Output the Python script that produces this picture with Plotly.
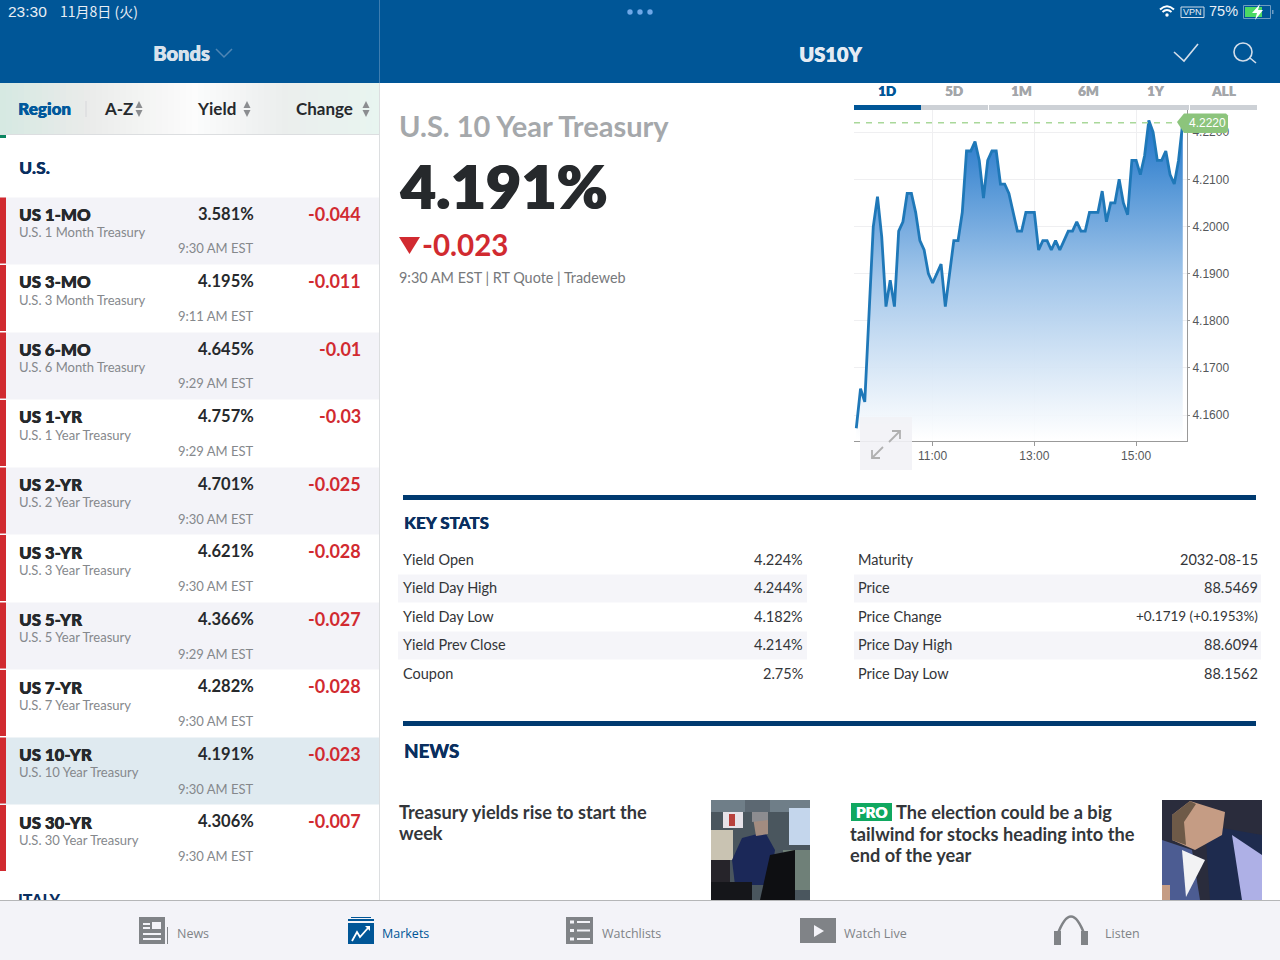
import pandas as pd
import plotly.graph_objects as go

W, H = 1280, 960

# chart values, 5 minute steps from 9:30
yield_1d = [
    4.1572, 4.1656, 4.1628, 4.1815, 4.1999, 4.2063, 4.1978, 4.183, 4.1886, 4.183,
    4.199, 4.201, 4.207, 4.207, 4.203, 4.197, 4.195, 4.190, 4.188, 4.190,
    4.192, 4.183, 4.190, 4.197, 4.197, 4.203, 4.216, 4.216, 4.218, 4.214,
    4.206, 4.214, 4.216, 4.216, 4.209, 4.209, 4.207, 4.203, 4.199, 4.199,
    4.203, 4.203, 4.203, 4.195, 4.197, 4.197, 4.195, 4.197, 4.195, 4.197,
    4.199, 4.199, 4.201, 4.199, 4.199, 4.203, 4.203, 4.203, 4.2075, 4.201,
    4.205, 4.205, 4.21, 4.205, 4.2025, 4.214, 4.214, 4.211, 4.215, 4.2225,
    4.22, 4.214, 4.214, 4.216, 4.211, 4.209, 4.214, 4.222,
]
times_1d = pd.date_range("2022-11-08 09:30", periods=len(yield_1d), freq="5min")
last_value = 4.222
y_ticks = [4.16, 4.17, 4.18, 4.19, 4.20, 4.21, 4.22]
x_ticks = ["2022-11-08 11:00", "2022-11-08 13:00", "2022-11-08 15:00"]
x_tick_labels = ["11:00", "13:00", "15:00"]
tabs = ["1D", "5D", "1M", "6M", "1Y", "ALL"]

# bond list
bond_names = ["US 1-MO", "US 3-MO", "US 6-MO", "US 1-YR", "US 2-YR", "US 3-YR", "US 5-YR", "US 7-YR", "US 10-YR", "US 30-YR"]
bond_descs = ["U.S. 1 Month Treasury", "U.S. 3 Month Treasury", "U.S. 6 Month Treasury", "U.S. 1 Year Treasury",
              "U.S. 2 Year Treasury", "U.S. 3 Year Treasury", "U.S. 5 Year Treasury", "U.S. 7 Year Treasury",
              "U.S. 10 Year Treasury", "U.S. 30 Year Treasury"]
bond_yields = ["3.581%", "4.195%", "4.645%", "4.757%", "4.701%", "4.621%", "4.366%", "4.282%", "4.191%", "4.306%"]
bond_changes = ["-0.044", "-0.011", "-0.01", "-0.03", "-0.025", "-0.028", "-0.027", "-0.028", "-0.023", "-0.007"]
bond_times = ["9:30 AM EST", "9:11 AM EST", "9:29 AM EST", "9:29 AM EST", "9:30 AM EST",
              "9:30 AM EST", "9:29 AM EST", "9:30 AM EST", "9:30 AM EST", "9:30 AM EST"]

# key stats
stat_left = ["Yield Open", "Yield Day High", "Yield Day Low", "Yield Prev Close", "Coupon"]
stat_left_vals = ["4.224%", "4.244%", "4.182%", "4.214%", "2.75%"]
stat_right = ["Maturity", "Price", "Price Change", "Price Day High", "Price Day Low"]
stat_right_vals = ["2032-08-15", "88.5469", "+0.1719 (+0.1953%)", "88.6094", "88.1562"]

nav_labels = ["News", "Markets", "Watchlists", "Watch Live", "Listen"]

FONT = "Lato"
BLUE = "#005697"
NAVY = "#0a2f60"
RED = "#d12a30"
DARK = "#26292c"
GREY = "#85888c"
NAV_GREY = "#808387"
NAV_BG = "#f3f3f8"


def fx(x):
    return x / W


def fy(y):
    return 1 - y / H


shapes = []
notes = []


def rect(x0, y0, x1, y1, color, layer="below"):
    shapes.append(dict(type="rect", xref="paper", yref="paper", x0=fx(x0), x1=fx(x1), y0=fy(y0), y1=fy(y1),
                       fillcolor=color, line=dict(width=0), layer=layer))


def path(points, fill=None, line=None, width=1, close=True, layer="above"):
    d = "M" + " L".join(f"{fx(x):.5f},{fy(y):.5f}" for x, y in points) + (" Z" if close else "")
    shapes.append(dict(type="path", xref="paper", yref="paper", path=d, fillcolor=fill or "rgba(0,0,0,0)",
                       line=dict(color=line or "rgba(0,0,0,0)", width=width if line else 0), layer=layer))


def curve(x0, y0, cx, cy, x1, y1, color, width):
    d = f"M{fx(x0):.5f},{fy(y0):.5f} Q{fx(cx):.5f},{fy(cy):.5f} {fx(x1):.5f},{fy(y1):.5f}"
    shapes.append(dict(type="path", xref="paper", yref="paper", path=d, line=dict(color=color, width=width), layer="above"))


def circle(cx, cy, r, fill=None, line=None, width=1):
    shapes.append(dict(type="circle", xref="paper", yref="paper", x0=fx(cx - r), x1=fx(cx + r), y0=fy(cy + r), y1=fy(cy - r),
                       fillcolor=fill or "rgba(0,0,0,0)", line=dict(color=line or "rgba(0,0,0,0)", width=width if line else 0), layer="above"))


def txt(x, y, s, size, color, anchor="left", weight=400, family=FONT):
    # annotations sit a pixel or so inside the anchor, pull them back
    x = x - 1 if anchor == "left" else x + 0.5 if anchor == "right" else x
    font = dict(family=family, size=size, color=color, weight=weight)
    if weight >= 800:
        font["shadow"] = f"{size * 0.02:.2f}px 0 0 {color}"
    notes.append(dict(xref="paper", yref="paper", x=fx(x), y=fy(y - 1), text=s, showarrow=False, xanchor=anchor, yanchor="middle",
                      borderpad=0, font=font))


def updown(x, y):
    path([(x - 3.5, y - 1), (x + 3.5, y - 1), (x, y - 8)], fill="#8b8d90")
    path([(x - 3.5, y + 1), (x + 3.5, y + 1), (x, y + 8)], fill="#8b8d90")


# headers
rect(0, 0, W, 83, BLUE)
rect(379, 0, 380, 83, "#3d7db0")
txt(8, 12, "23:30", 15.5, "#e8eef5", family="Liberation Sans")
txt(60, 12, "11月8日 (火)", 14, "#e8eef5", family="Noto Sans CJK JP")
txt(181, 54, "Bonds", 20, "#d8e2ec", "center", 800)
path([(216, 49), (224, 57), (232, 49)], line="#4f86b5", width=1.5, close=False)
txt(830, 55, "US10Y", 20, "#e4ebf3", "center", 800)
for cx in (630, 640, 650):
    circle(cx, 12, 2.7, fill="#6fa8e8")
path([(1174, 52), (1184, 61), (1198, 44)], line="#d3deea", width=1.6, close=False)
circle(1243, 52, 9, line="#d3deea", width=1.6)
path([(1250, 58), (1256, 63)], line="#d3deea", width=1.6, close=False)

# status icons
curve(1160, 9.5, 1167, 3, 1174, 9.5, "white", 2)
curve(1162.5, 12, 1167, 8, 1171.5, 12, "white", 2)
circle(1167, 15, 1.7, fill="white")
shapes.append(dict(type="rect", xref="paper", yref="paper", x0=fx(1181), x1=fx(1204), y0=fy(17.5), y1=fy(7), line=dict(color="#cfdcea", width=1), layer="above"))
txt(1192.5, 13, "VPN", 9, "#e8eef5", "center", family="Liberation Sans")
txt(1209, 12.5, "75%", 14.5, "#e8eef5", family="Liberation Sans")
shapes.append(dict(type="rect", xref="paper", yref="paper", x0=fx(1243.5), x1=fx(1270.5), y0=fy(18.5), y1=fy(5.5), line=dict(color="#6f9cc2", width=1), layer="above"))
rect(1245, 7, 1262, 17, "#4cd964", "above")
rect(1272, 10, 1273.5, 14, "#6f9cc2", "above")
path([(1260, 4), (1252, 13), (1257, 13), (1255, 20), (1263, 10), (1258, 10)], fill="white")

# sort bar, drawn in strips since rects have one colour
stops = [(0, (214, 233, 226)), (85, (234, 235, 234)), (190, (252, 252, 252)), (280, (235, 238, 237)), (379, (232, 245, 240))]
for sx in range(0, 379, 6):
    for (a, ca), (b, cb) in zip(stops, stops[1:]):
        if a <= sx < b:
            t = (sx - a) / (b - a)
            c = [round(p + (q - p) * t) for p, q in zip(ca, cb)]
            rect(sx, 83, min(sx + 6.5, 379), 134, f"rgb({c[0]},{c[1]},{c[2]})")
rect(0, 134, 379, 135, "#dcdee0")
rect(0, 135, 6, 138, "#0a8560")
rect(85.5, 101, 86.5, 117, "#d5d8da")
txt(18, 109, "Region", 17, "#00599c", weight=800)
txt(104, 109, "A-Z", 17, DARK, weight=700)
updown(139, 109)
txt(197, 109, "Yield", 17, DARK, weight=700)
updown(247, 109)
txt(296, 109, "Change", 17, DARK, weight=700)
updown(366, 109)
txt(19, 168, "U.S.", 17.5, NAVY, weight=900)

# rows
for i, name in enumerate(bond_names):
    top = 197.5 + 67.5 * i
    if i == 8:
        rect(0, top, 379, top + 67, "#dfeaf0")
    elif i % 2 == 0:
        rect(0, top, 379, top + 67, NAV_BG)
    rect(0, top, 6, top + 66, RED)
    txt(19, top + 18, name, 16.8, DARK, weight=800)
    txt(19, top + 35.5, bond_descs[i], 13, GREY)
    txt(254, top + 17, bond_yields[i], 16.5, DARK, "right", 700)
    txt(361, top + 17, bond_changes[i], 18, RED, "right", 700)
    txt(254, top + 52, bond_times[i], 13, GREY, "right")
rect(379, 83, 380, 900, "#dcdee0")

# quote block
txt(399, 127, "U.S. 10 Year Treasury", 29, "#a5a8ab", weight=700)
txt(399, 187, "4.191%", 61, DARK, weight=800)
path([(399, 237), (420, 237), (409.5, 254)], fill=RED, layer="below")
txt(422, 246, "-0.023", 29.5, RED, weight=700)
txt(399, 278, "9:30 AM EST | RT Quote | Tradeweb", 14.4, "#77797c")

# range tabs
rect(854, 105, 1257, 110, "#cdd1d6")
rect(854, 105, 921, 110, BLUE)
rect(988, 105, 989, 110, "#ffffff")
rect(1189, 105, 1190, 110, "#ffffff")
for i, tab in enumerate(tabs):
    txt(887 + 67.2 * i, 92, tab, 13.5, BLUE if i == 0 else "#a3a6aa", "center", 800)

# green last price tag
path([(1177, 122), (1184, 113.5), (1226, 113.5), (1228, 115.5), (1228, 131), (1226, 133), (1184, 133)], fill="#8cc47c")
txt(1189, 124, "4.2220", 12, "white", family="Liberation Sans")

# expand button
rect(860, 417, 912, 470, "rgba(242,242,246,0.9)", "above")
path([(872, 458), (883, 447)], line="#b0b0b0", width=1.8, close=False)
path([(872, 450), (872, 458), (880, 458)], line="#b0b0b0", width=1.8, close=False)
path([(889, 442), (900, 431)], line="#b0b0b0", width=1.8, close=False)
path([(892, 431), (900, 431), (900, 439)], line="#b0b0b0", width=1.8, close=False)

# key stats
rect(403, 495, 1256, 500, "#003a70")
txt(404, 523, "KEY STATS", 17, NAVY, weight=900)
for i in range(5):
    y = 560 + 28.5 * i
    if i % 2 == 1:
        rect(398, y - 14, 807, y + 14, "#f5f5f9")
        rect(854, y - 14, 1261, y + 14, "#f5f5f9")
    txt(403, y, stat_left[i], 14.5, "#333538")
    txt(803, y, stat_left_vals[i], 14.5, "#333538", "right")
    txt(858, y, stat_right[i], 14.5, "#333538")
    txt(1258, y, stat_right_vals[i], 13.5 if i == 2 else 14.5, "#333538", "right")

# news
rect(403, 721, 1256, 726, "#003a70")
txt(404, 752, "NEWS", 18.7, NAVY, weight=900)
txt(399, 813, "Treasury yields rise to start the", 18.2, "#33363a", weight=700)
txt(399, 834, "week", 18.2, "#33363a", weight=700)
rect(851, 803, 892, 821, "#10a860")
txt(871.5, 812.5, "PRO", 15, "white", "center", 800)
txt(896, 813, "The election could be a big", 18.2, "#33363a", weight=700)
txt(850, 835, "tailwind for stocks heading into the", 18.2, "#33363a", weight=700)
txt(850, 856, "end of the year", 18.2, "#33363a", weight=700)

# photo 1, a rough sketch in blocks
rect(711, 800, 810, 900, "#4a565e")
rect(711, 800, 810, 812, "#6f7e88")
rect(711, 830, 733, 860, "#c9c3b2")
rect(745, 800, 770, 812, "#5c6872")
rect(723, 812, 743, 828, "#e6e2e8")
rect(729, 814, 735, 826, "#b8403c")
rect(789, 808, 810, 845, "#c4d6ec")
rect(783, 850, 810, 890, "#6f8078")
path([(732, 860), (742, 838), (765, 832), (775, 850), (770, 885), (735, 885)], fill="#1b2858", layer="below")
path([(752, 812), (768, 812), (768, 834), (756, 836)], fill="#a38c80", layer="below")
path([(752, 812), (768, 812), (768, 820), (752, 822)], fill="#8c8c90", layer="below")
path([(770, 855), (795, 850), (795, 900), (760, 900)], fill="#0e0f12", layer="below")
rect(711, 882, 752, 900, "#15161a")
rect(711, 860, 730, 882, "#26242a")

# photo 2
rect(1162, 800, 1262, 900, "#2a2c3c")
path([(1162, 840), (1192, 850), (1200, 900), (1162, 900)], fill="#4c5c92", layer="below")
path([(1205, 825), (1262, 835), (1262, 900), (1210, 900)], fill="#1e2b4e", layer="below")
path([(1232, 835), (1262, 855), (1262, 900), (1242, 900)], fill="#aeb0e6", layer="below")
path([(1182, 850), (1205, 860), (1186, 897)], fill="#f2f2f4", layer="below")
path([(1172, 815), (1190, 801), (1225, 812), (1222, 835), (1195, 850), (1172, 840)], fill="#c59c84", layer="below")
path([(1172, 815), (1190, 801), (1196, 804), (1184, 822), (1186, 845), (1172, 840)], fill="#6e5a48", layer="below")
rect(1162, 885, 1170, 900, "#c59c84")

# bottom nav
rect(0, 900, W, 960, NAV_BG, "above")
rect(0, 900, W, 901, "#b5b6b8", "above")
rect(139, 917, 165, 944, NAV_GREY, "above")
rect(143, 923, 150, 925, NAV_BG, "above")
rect(143, 927, 150, 929, NAV_BG, "above")
rect(152, 922, 161, 929, NAV_BG, "above")
rect(143, 933, 161, 935, NAV_BG, "above")
rect(143, 938, 161, 940, NAV_BG, "above")
rect(167, 927, 168, 944, NAV_GREY, "above")
rect(348, 923, 374, 944, BLUE, "above")
rect(348, 919, 374, 921, BLUE, "above")
rect(351, 917, 371, 918, BLUE, "above")
path([(352, 941), (357, 932), (360, 937), (368, 928)], line="white", width=1.8, close=False)
path([(365, 926), (370, 926), (370, 931)], fill="white")
rect(566, 917, 593, 944, NAV_GREY, "above")
for ny in (922, 930.5, 939):
    rect(570, ny - 1.5, 574, ny + 1.5, NAV_BG, "above")
    rect(577, ny - 1, 590, ny + 1, NAV_BG, "above")
rect(800, 918, 836, 943, NAV_GREY, "above")
path([(814, 925), (814, 937), (824, 931)], fill=NAV_BG)
curve(1057, 936, 1071, 897, 1085, 936, NAV_GREY, 2.6)
rect(1054, 931, 1061, 945, NAV_GREY, "above")
rect(1081, 931, 1088, 945, NAV_GREY, "above")
for x, label, color in zip([177, 382, 602, 844, 1105], nav_labels, [NAV_GREY, BLUE, NAV_GREY, NAV_GREY, NAV_GREY]):
    txt(x, 934, label, 12.5, color, family="Open Sans")

# price line, a shape since the axis only holds the chart
shapes.append(dict(type="line", xref="paper", yref="y", x0=fx(854), x1=fx(1178), y0=last_value, y1=last_value,
                   line=dict(color="#a9d89a", width=1.3, dash="6px,6px"), layer="above"))

fig = go.Figure()
fig.add_trace(go.Scatter(
    x=times_1d, y=yield_1d, mode="lines", fill="tozeroy",
    line=dict(color="#1f78b8", width=2.8),
    fillgradient=dict(type="vertical", start=4.1545, stop=4.2235,
                      colorscale=[[0, "rgba(255,255,255,0.9)"], [0.5, "#a2c6ea"], [1, "#1a72c8"]]),
    hoverinfo="skip", showlegend=False,
))
fig.add_trace(go.Scatter(
    x=[times_1d[-1]], y=[last_value], mode="markers", cliponaxis=False,
    marker=dict(color="#1fb4f5", size=7), hoverinfo="skip", showlegend=False,
))
# ITALY heading, cut off at the nav bar like the list behind it
fig.add_trace(go.Scatter(
    x=[18], y=[902], mode="text", text=["ITALY"], textposition="middle right",
    textfont=dict(family=FONT, size=16, color=NAVY, weight=900),
    xaxis="x2", yaxis="y2", hoverinfo="skip", showlegend=False,
))

fig.update_layout(
    width=W, height=H, margin=dict(l=0, r=0, t=0, b=0), autosize=False,
    paper_bgcolor="white", plot_bgcolor="rgba(0,0,0,0)",
    shapes=shapes, annotations=notes,
    xaxis=dict(domain=[fx(854), fx(1187)], type="date",
               range=["2022-11-08 09:27:18", "2022-11-08 16:00"],
               tickvals=x_ticks, ticktext=x_tick_labels, ticks="outside", ticklen=4, tickcolor="#999999",
               showline=True, linecolor="#999999", linewidth=1, showgrid=True, gridcolor="#efeff1",
               tickfont=dict(family="Liberation Sans", size=12, color="#55585b"), zeroline=False),
    yaxis=dict(domain=[fy(441), fy(110)], range=[4.1545, 4.2247], side="right", anchor="x",
               tickvals=y_ticks, tickformat=".4f", ticks="outside", ticklen=2, tickcolor="#999999",
               showline=True, linecolor="#999999", linewidth=1, showgrid=True, gridcolor="#efeff1",
               tickfont=dict(family="Liberation Sans", size=12, color="#55585b"), zeroline=False),
    xaxis2=dict(domain=[0, fx(379)], range=[0, 379], visible=False, anchor="y2"),
    yaxis2=dict(domain=[fy(900), fy(885)], range=[900, 885], visible=False, anchor="x2"),
)

fig.write_html("out.html", config={"displayModeBar": False},
               post_script="document.body.style.margin='0';document.body.style.overflow='hidden';")
